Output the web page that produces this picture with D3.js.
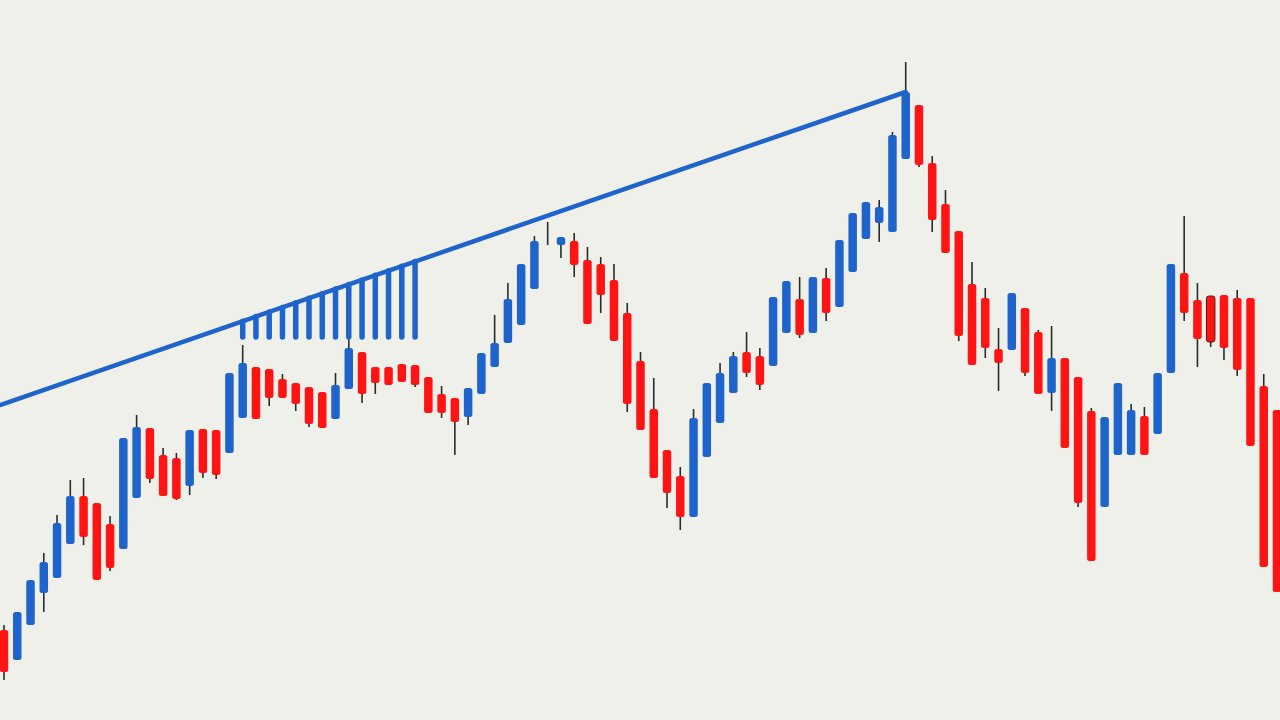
<!DOCTYPE html>
<html>
<head>
<meta charset="utf-8">
<script src="https://cdn.jsdelivr.net/npm/d3@7/dist/d3.min.js"></script>
<style>
html,body{margin:0;padding:0;background:#f0f0eb;overflow:hidden;}
svg{display:block;}
</style>
</head>
<body>
<svg id="chart" width="1280" height="720"></svg>
<script>
// Candle values (arbitrary price units)
const opens  = [9.0,6.0,9.5,12.7,14.2,17.6,22.4,21.7,19.6,17.1,22.2,29.2,26.5,26.2,23.4,29.1,29.0,26.7,30.2,35.3,
  35.1,34.1,33.7,33.3,32.8,30.1,33.1,36.8,35.3,35.3,35.6,35.5,34.3,32.6,32.2,30.3,32.6,35.3,37.7,39.5,
  43.1,48.2,47.5,47.9,46.0,45.6,44.0,40.7,35.9,31.1,27.0,24.4,20.3,26.3,29.7,32.7,36.8,36.4,35.4,38.7,
  42.1,38.7,44.2,41.3,44.8,48.1,49.7,48.8,56.1,61.5,55.7,51.6,48.9,43.6,42.2,37.1,37.0,41.2,38.8,32.7,
  36.2,34.3,30.9,21.3,26.5,26.5,30.4,28.6,34.7,44.7,42.0,42.4,42.5,42.2,42.2,33.4,31.0];
const highs  = [9.5,10.8,14.0,16.7,20.5,24.0,24.2,21.7,20.4,28.2,30.5,29.2,27.2,26.7,29.0,29.1,29.0,34.7,37.5,35.3,
  35.1,34.6,33.7,33.3,32.8,34.7,38.3,36.8,35.3,35.3,35.6,35.5,34.3,33.4,32.2,33.2,36.7,40.5,43.7,45.6,
  48.4,49.8,48.3,48.7,47.3,46.3,45.6,41.7,36.8,34.2,27.0,25.3,31.1,33.7,35.7,36.8,38.8,37.2,42.3,43.9,
  44.3,44.3,45.2,48.0,50.7,51.8,52.0,58.8,65.8,61.5,56.4,53.0,48.9,45.8,43.2,39.2,42.7,41.2,39.0,39.4,
  36.2,34.3,31.2,30.3,33.7,31.6,31.3,34.7,45.6,50.4,43.7,42.4,42.5,43.0,42.2,34.6,31.0];
const lows   = [4.0,6.0,9.5,10.8,14.2,17.6,17.5,14.0,14.9,17.1,22.2,23.7,22.4,22.0,22.5,24.2,24.1,26.7,30.2,30.1,
  31.4,32.2,30.9,29.3,29.2,30.1,33.1,31.7,32.6,33.5,33.8,33.3,30.7,30.2,26.5,29.5,32.6,35.3,37.7,39.5,
  43.1,47.5,46.2,44.3,39.6,40.7,37.9,30.8,29.0,24.2,21.2,19.0,20.3,26.3,29.7,32.7,34.3,33.0,35.4,38.7,
  38.2,38.7,39.9,41.3,44.8,48.1,47.8,48.8,56.1,55.3,48.8,46.7,37.9,35.5,36.2,32.9,37.0,34.4,32.6,30.9,
  27.2,21.3,15.9,21.3,26.5,26.5,26.5,28.6,34.7,39.9,35.3,37.3,36.0,34.4,27.4,15.3,12.8];
const closes = [4.8,10.8,14.0,15.8,19.7,22.4,18.3,14.0,15.2,28.2,29.3,24.1,22.4,22.1,29.0,24.7,24.5,34.7,35.7,30.1,
  32.2,32.2,31.6,29.6,29.2,33.5,37.2,32.6,33.7,33.5,33.8,33.5,30.7,30.7,29.8,33.2,36.7,37.7,42.1,45.6,
  47.9,48.2,48.3,45.5,39.6,42.5,37.9,31.6,29.0,24.2,22.7,20.3,30.2,33.7,34.7,36.4,34.7,33.5,42.3,43.9,
  38.5,44.3,40.7,48.0,50.7,51.8,51.3,58.5,62.8,55.5,50.0,46.7,38.4,35.5,37.2,35.7,42.7,34.7,32.6,36.2,
  27.2,21.7,15.9,30.3,33.7,31.0,26.5,34.7,45.6,40.7,38.1,37.8,37.2,35.0,27.4,15.3,12.8];

// Trend line: from left edge to the close of the peak candle
const trendStart = {i: -0.3, v: 31.5};
const trendEnd   = {i: 68,   v: 62.8};
// Hanging bars beneath the trend line
const fanFrom = 18, fanTo = 31, fanBase = 38.3;
const outlined = [91];

const W = 1280, H = 720;
const BLUE = "#1f63cc", RED = "#ff1414", WICK = "#2a2a2a";

const svg = d3.select("#chart");
svg.append("rect").attr("width", W).attr("height", H).attr("fill", "#f0f0eb");

const n = opens.length;
const x = d3.scaleLinear().domain([0, n - 1]).range([4, 1277]);
const y = d3.scaleLinear().domain([0, 72]).range([H, 0]);

const candles = d3.range(n).map(i => ({i, o: opens[i], h: highs[i], l: lows[i], c: closes[i]}));
const bw = 8.5;

const g = svg.append("g");
// wicks
g.selectAll("line.wick").data(candles).join("line")
  .attr("class", "wick")
  .attr("x1", d => x(d.i)).attr("x2", d => x(d.i))
  .attr("y1", d => y(d.h)).attr("y2", d => y(d.l))
  .attr("stroke", WICK).attr("stroke-width", 1.6);
// bodies
g.selectAll("rect.body").data(candles).join("rect")
  .attr("class", "body")
  .attr("x", d => x(d.i) - bw / 2)
  .attr("width", bw)
  .attr("y", d => y(Math.max(d.o, d.c)))
  .attr("height", d => Math.abs(y(d.o) - y(d.c)))
  .attr("rx", 2.5).attr("ry", 2.5)
  .attr("fill", d => d.c >= d.o ? BLUE : RED)
  .attr("stroke", d => outlined.includes(d.i) ? "#5a1414" : "none")
  .attr("stroke-width", 1);

// trend line value at index
const trendAt = i => trendStart.v + (trendEnd.v - trendStart.v) * (i - trendStart.i) / (trendEnd.i - trendStart.i);

// fan bars
const fan = d3.range(fanFrom, fanTo + 1);
g.selectAll("line.fan").data(fan).join("line")
  .attr("class", "fan")
  .attr("x1", d => x(d)).attr("x2", d => x(d))
  .attr("y1", d => y(trendAt(d)))
  .attr("y2", y(fanBase))
  .attr("stroke", BLUE).attr("stroke-width", 5.5).attr("stroke-linecap", "round");

// trend line
g.append("line")
  .attr("x1", x(trendStart.i)).attr("y1", y(trendStart.v))
  .attr("x2", x(trendEnd.i)).attr("y2", y(trendEnd.v))
  .attr("stroke", BLUE).attr("stroke-width", 4.5).attr("stroke-linecap", "round");
</script>
</body>
</html>
